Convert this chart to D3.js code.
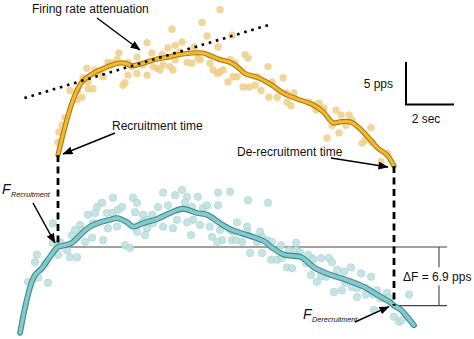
<!DOCTYPE html>
<html><head><meta charset="utf-8">
<script src="https://cdn.jsdelivr.net/npm/d3@7"></script>
<style>
body{margin:0;background:#fff}
svg{display:block}
text{font-family:"Liberation Sans",Arial,Helvetica,sans-serif;fill:#111}
</style>
</head><body>
<svg id="chart" width="474" height="339"></svg>
<script>
// ---------------- DATA (time in s, firing rate in pps) ----------------
const recruitmentTime = 0;
const derecruitmentTime = 14;
const fRecruitment = 14.4;     // reporter unit rate at test-unit recruitment
const fDerecruitment = 7.5;    // reporter unit rate at test-unit de-recruitment
const deltaFLabel = "ΔF = 6.9 pps";
const scaleBarRate = 5;        // pps
const scaleBarTime = 2;        // sec
const scaleBarLabels = ["5 pps", "2 sec"];

// test unit (top, orange) – smoothed rate
const testUnitSmooth = [[0,8.0],[0.29,11.3],[0.63,14.5],[1.0,16.6],[1.46,17.6],[2.08,18.4],[2.5,18.8],[2.79,18.8],
 [3.08,18.5],[3.54,18.8],[4.13,19.3],[4.58,19.5],[5.0,19.8],[5.58,20.0],[6.04,20.0],[6.25,19.8],[6.67,19.3],
 [7.17,18.9],[7.46,18.4],[7.79,17.6],[8.33,17.1],[8.92,16.2],[9.38,15.3],[9.96,14.6],[10.63,13.9],[11.04,13.1],
 [11.46,11.8],[11.75,11.9],[12.17,11.9],[12.5,11.3],[12.92,10.1],[13.29,8.9],[13.71,8.0],[14.0,6.7]];

// test unit (top) – instantaneous discharge rates
const testUnitRates = [[6.75,25.1],[6.0,23.6],[4.75,22.8],[6.21,22.0],[7.25,22.1],[3.71,21.2],[4.88,20.9],[5.17,21.3],
 [5.67,20.7],[6.67,20.7],[2.54,20.0],[3.29,19.5],[3.92,20.0],[4.33,19.8],[2.46,19.2],[2.17,18.8],[2.92,18.9],
 [3.08,18.4],[3.54,18.6],[3.96,18.4],[4.13,18.2],[4.38,18.6],[4.67,18.4],[4.79,18.0],[5.38,18.9],[5.58,18.8],
 [5.92,19.2],[6.33,18.8],[6.46,18.0],[6.75,17.8],[7.17,19.2],[1.21,18.2],[1.54,18.0],[1.75,17.8],[1.88,17.2],
 [1.04,17.1],[1.25,16.6],[2.92,17.4],[2.79,16.5],[3.29,17.6],[3.71,17.4],[4.25,18.0],[0.5,15.6],[0.83,15.6],
 [1.25,15.8],[1.46,15.8],[1.0,14.8],[0.79,14.5],[0.29,12.4],[0.17,11.5],[0.0,9.5],[0.04,10.7],[7.08,16.6],
 [7.29,17.2],[2.08,18.9],[2.29,18.8],[2.71,16.2],[4.58,20.6],[5.08,20.1],[5.83,19.4],[4.88,19.2],[6.63,17.6],
 [6.88,18.0],[7.38,18.8],[7.79,19.8],[7.92,19.4],[8.75,18.4],[9.38,17.1],[7.46,17.2],[7.71,16.0],[7.96,16.0],
 [8.21,16.2],[8.46,15.6],[8.92,16.6],[8.79,14.8],[9.13,14.8],[9.5,15.3],[9.83,15.3],[9.54,14.2],[9.71,13.8],
 [10.46,14.2],[10.67,13.9],[10.88,14.1],[11.08,13.5],[10.75,13.3],[11.58,13.3],[11.79,12.7],[12.13,12.7],
 [12.25,12.1],[11.42,11.5],[12.0,11.5],[13.04,11.2],[11.21,10.0],[11.71,10.6],[12.67,9.4],[12.83,9.8],
 [13.71,8.2],[13.46,7.2],[8.29,17.2],[13.08,9.5]];

// reporter unit (bottom, teal) – smoothed rate
const reporterUnitSmooth = [[-1.58,4.3],[-1.38,7.2],[-1.17,9.6],[-0.96,11.1],[-0.67,11.9],[-0.42,12.9],[0,14.4],
 [0.29,14.6],[0.58,14.9],[0.92,15.8],[1.33,16.8],[1.75,17.3],[2.17,17.6],[2.46,17.8],[2.88,17.3],[3.13,16.8],
 [3.54,17.2],[4.13,17.7],[4.67,18.4],[5.21,18.9],[5.79,18.4],[6.21,18.2],[6.75,17.2],[7.17,16.5],[7.67,16.0],
 [8.21,15.5],[8.63,15.0],[8.88,14.4],[9.42,13.5],[10.13,13.2],[10.67,12.0],[11.38,11.1],[12.04,10.5],
 [12.75,9.7],[13.29,8.8],[13.88,7.8],[14.0,7.5],[14.29,7.0],[14.54,6.2],[14.83,5.2]];

// reporter unit (bottom) – instantaneous discharge rates
const reporterUnitRates = [[-0.88,13.5],[-0.96,12.6],[-0.54,12.5],[-1.25,10.3],[-0.83,10.8],[-0.42,10.2],
 [-0.21,17.2],[-0.21,14.9],[0.08,15.0],[0,13.5],[0.38,14.0],[0.5,13.2],[0.79,13.2],[0.58,15.8],[0.71,16.4],
 [0.92,17.0],[1.0,16.4],[1.13,15.0],[1.25,18.2],[1.54,18.4],[1.83,19.6],[1.63,19.1],[1.46,17.2],[1.42,15.5],
 [1.88,15.2],[2.29,20.2],[2.04,18.4],[2.29,18.4],[2.5,18.8],[2.67,19.1],[2.08,16.6],[2.46,16.8],[2.79,14.6],
 [3.0,14.3],[3.13,20.2],[3.29,19.6],[3.21,18.5],[3.54,18.2],[3.71,17.6],[3.5,17.3],[3.71,16.6],[3.29,16.2],
 [3.63,15.8],[3.92,18.2],[3.96,17.2],[4.17,19.1],[4.38,20.8],[4.58,19.3],[4.38,16.8],[4.79,16.6],[4.96,17.6],
 [5.17,21.1],[4.88,20.5],[5.38,20.3],[5.58,19.1],[5.29,19.6],[5.83,20.3],[6.04,19.0],[6.21,19.3],[5.38,17.3],
 [5.63,17.6],[5.92,17.0],[5.54,15.8],[6.33,16.8],[6.67,20.8],[6.67,19.3],[7.17,20.9],[6.42,15.6],[6.83,15.2],
 [7.29,16.2],[7.46,17.3],[7.92,19.9],[7.88,16.8],[7.17,16.4],[6.75,16.4],[6.63,15.0],[7.25,15.2],[7.67,15.0],
 [8.0,13.7],[8.5,15.6],[8.42,16.2],[8.5,13.7],[8.75,19.6],[7.88,16.2],[7.42,15.2],[8.29,15.0],[8.71,15.2],
 [8.92,15.0],[9.29,14.6],[9.92,14.9],[8.88,12.9],[9.13,12.9],[9.33,13.1],[9.54,12.0],[9.75,11.9],[9.63,14.0],
 [9.92,14.0],[10.33,12.5],[10.58,13.1],[10.96,13.1],[11.29,13.1],[11.42,12.6],[11.63,11.7],[11.92,11.5],
 [12.21,12.0],[10.54,11.1],[10.96,11.0],[11.17,10.9],[10.79,10.3],[11.5,9.1],[11.83,9.3],[12.25,9.7],
 [13.04,10.9],[12.63,11.3],[12.46,9.6],[12.83,8.8],[13.29,9.3],[13.71,9.0],[13.58,8.4],[13.79,8.4],[14.63,8.8],
 [13.17,7.0],[14.0,6.2],[14.21,5.6],[10.08,13.8],[10.42,13.5],[10.63,12.9],[11.96,10.2],[12.46,8.5],
 [13.13,8.8],[13.42,8.4],[14.33,5.8]];

// firing-rate attenuation trend (dotted line, top panel)
const attenuationLine = [[-1.4,14.7],[8.9,23.4]];

// ---------------- SCALES ----------------
const svg = d3.select("#chart");
const x = d3.scaleLinear().domain([0, 14]).range([58, 394]);          // 24 px / s
const yTop = d3.scaleLinear().domain([0, 20]).range([223, 53]);       // 8.5 px / pps
const yBot = d3.scaleLinear().domain([0, 20]).range([369.4, 199.4]);

// arrow marker
svg.append("defs").append("marker")
  .attr("id","arr").attr("markerUnits","userSpaceOnUse")
  .attr("viewBox","0 0 10 8").attr("markerWidth",10).attr("markerHeight",8)
  .attr("refX",9.5).attr("refY",4).attr("orient","auto")
  .append("path").attr("d","M0,0 L10,4 L0,8 Z").attr("fill","#000");

// ---------------- REFERENCE LINES (bottom) ----------------
const bracketX = 439, lineEnd = 447;
svg.append("line").attr("x1",x(recruitmentTime)).attr("x2",lineEnd)
  .attr("y1",yBot(fRecruitment)).attr("y2",yBot(fRecruitment))
  .attr("stroke","#444").attr("stroke-width",1.1);
svg.append("line").attr("x1",x(derecruitmentTime)).attr("x2",lineEnd)
  .attr("y1",yBot(fDerecruitment)).attr("y2",yBot(fDerecruitment))
  .attr("stroke","#444").attr("stroke-width",1.1);
svg.append("line").attr("x1",bracketX).attr("x2",bracketX)
  .attr("y1",yBot(fRecruitment)).attr("y2",yBot(fDerecruitment))
  .attr("stroke","#444").attr("stroke-width",1.1);

// ---------------- SCATTER ----------------
svg.append("g").selectAll("circle").data(testUnitRates).join("circle")
  .attr("cx",d=>x(d[0])).attr("cy",d=>yTop(d[1])).attr("r",3.7)
  .attr("fill","#eecf88").attr("fill-opacity",0.85);
svg.append("g").selectAll("circle").data(reporterUnitRates).join("circle")
  .attr("cx",d=>x(d[0])).attr("cy",d=>yBot(d[1])).attr("r",3.7)
  .attr("fill","#bfe1e0").attr("fill-opacity",0.9)
  .attr("stroke","#a5d1d1").attr("stroke-width",0.6);

// ---------------- SMOOTH CURVES ----------------
const lineTop = d3.line().x(d=>x(d[0])).y(d=>yTop(d[1])).curve(d3.curveCatmullRom.alpha(0.5));
const lineBot = d3.line().x(d=>x(d[0])).y(d=>yBot(d[1])).curve(d3.curveCatmullRom.alpha(0.5));
function doubleStroke(d, outer, inner, wo, wi){
  svg.append("path").attr("d",d).attr("fill","none").attr("stroke",outer).attr("stroke-width",wo)
    .attr("stroke-linecap","round").attr("stroke-linejoin","round");
  svg.append("path").attr("d",d).attr("fill","none").attr("stroke",inner).attr("stroke-width",wi)
    .attr("stroke-linecap","round").attr("stroke-linejoin","round");
}
doubleStroke(lineTop(testUnitSmooth), "#a97a10", "#f4b92e", 5.2, 3.0);
doubleStroke(lineBot(reporterUnitSmooth), "#3c8a91", "#84cacd", 5.8, 3.6);

// dotted attenuation line
svg.append("line")
  .attr("x1",x(attenuationLine[0][0])).attr("y1",yTop(attenuationLine[0][1]))
  .attr("x2",x(attenuationLine[1][0])).attr("y2",yTop(attenuationLine[1][1]))
  .attr("stroke","#000").attr("stroke-width",2.6).attr("stroke-dasharray","2.6,4.8");

// dashed recruitment / de-recruitment lines
const dashStyle = s => s.attr("stroke","#000").attr("stroke-width",2.8).attr("stroke-dasharray","7,4.5");
svg.append("line").attr("x1",x(recruitmentTime)).attr("x2",x(recruitmentTime))
  .attr("y1",yTop(testUnitSmooth[0][1])).attr("y2",yBot(fRecruitment)).call(dashStyle);
svg.append("line").attr("x1",x(derecruitmentTime)).attr("x2",x(derecruitmentTime))
  .attr("y1",yTop(testUnitSmooth[testUnitSmooth.length-1][1])).attr("y2",yBot(fDerecruitment)).call(dashStyle);

// ---------------- SCALE BAR ----------------
const sbX = 406, sbY = 104.5;
const pxPerPps = yTop(0) - yTop(1), pxPerSec = x(1) - x(0);
svg.append("path")
  .attr("d",`M${sbX},${sbY - scaleBarRate*pxPerPps} L${sbX},${sbY} L${sbX + scaleBarTime*pxPerSec},${sbY}`)
  .attr("fill","none").attr("stroke","#000").attr("stroke-width",2);
svg.append("text").attr("x",sbX-13).attr("y",sbY - scaleBarRate*pxPerPps/2 + 4.5)
  .attr("text-anchor","end").attr("font-size",12).text(scaleBarLabels[0]);
svg.append("text").attr("x",sbX + scaleBarTime*pxPerSec/2 - 4).attr("y",sbY + 18)
  .attr("text-anchor","middle").attr("font-size",12).text(scaleBarLabels[1]);

// ---------------- ANNOTATIONS ----------------
function arrow(x1,y1,x2,y2){
  svg.append("line").attr("x1",x1).attr("y1",y1).attr("x2",x2).attr("y2",y2)
    .attr("stroke","#000").attr("stroke-width",1.5).attr("marker-end","url(#arr)");
}
svg.append("text").attr("x",32).attr("y",12.5).attr("font-size",12).text("Firing rate attenuation");
arrow(97,18,140,50);

svg.append("text").attr("x",112).attr("y",129.5).attr("font-size",12).text("Recruitment time");
arrow(115,133, x(recruitmentTime)+5, yTop(testUnitSmooth[0][1]) - 1);

svg.append("text").attr("x",237).attr("y",155.5).attr("font-size",12).text("De-recruitment time");
arrow(331,158, x(derecruitmentTime)-6, yTop(testUnitSmooth[testUnitSmooth.length-1][1]) + 1);

// F Recruitment
const fr = svg.append("text").attr("x",2).attr("y",194).attr("font-style","italic");
fr.append("tspan").attr("font-size",14).text("F");
fr.append("tspan").attr("font-size",7.2).attr("dx",0.5).attr("dy",2.5).text("Recruitment");
arrow(33,203, x(recruitmentTime)-3, yBot(fRecruitment)-4);

// F Derecruitment
const fd = svg.append("text").attr("x",303).attr("y",319).attr("font-style","italic");
fd.append("tspan").attr("font-size",14).text("F");
fd.append("tspan").attr("font-size",7.2).attr("dx",0.5).attr("dy",3).text("Derecruitment");
arrow(355,322, x(derecruitmentTime)-5, yBot(fDerecruitment)+1);

// delta F label with white background
const dfy = (yBot(fRecruitment)+yBot(fDerecruitment))/2;
svg.append("rect").attr("x",401).attr("y",dfy-9).attr("width",73).attr("height",18).attr("fill","#fff");
svg.append("text").attr("x",403).attr("y",dfy+4.5).attr("font-size",12).text(deltaFLabel);
</script>
</body></html>
